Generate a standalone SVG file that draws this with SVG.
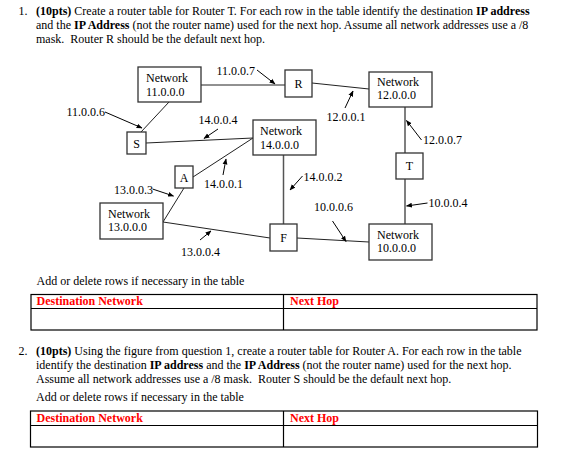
<svg xmlns="http://www.w3.org/2000/svg" width="587" height="462" viewBox="0 0 587 462">
<style>
text{font-family:"Liberation Serif","Times New Roman",serif;font-size:12px;fill:#000}
.b{font-weight:bold}
.red{fill:#ff0000;font-weight:bold}
.box{fill:#fff;stroke:#333;stroke-width:1.3}
.ln{stroke:#222;stroke-width:1;fill:none}
.vl{stroke:#555;stroke-width:1.5;fill:none}
.ar{stroke:#000;stroke-width:1;fill:none;marker-end:url(#ah)}
.tb{fill:none;stroke:#000;stroke-width:1.2}
.c{text-anchor:middle}
</style>
<defs>
<marker id="ah" viewBox="0 0 10 10" refX="9" refY="5" markerWidth="6" markerHeight="6" orient="auto" markerUnits="userSpaceOnUse">
<path d="M0,1 L10,5 L0,9 z" fill="#000"/>
</marker>
</defs>
<rect width="587" height="462" fill="#fff"/>

<g id="question1">
<text x="18.5" y="14.5">1.</text>
<text x="36" y="14.5"><tspan class="b">(10pts)</tspan> Create a router table for Router T. For each row in the table identify the destination <tspan class="b">IP address</tspan></text>
<text x="36" y="28.5">and the <tspan class="b">IP Address</tspan> (not the router name) used for the next hop. Assume all network addresses use a /8</text>
<text x="36" y="42.5" xml:space="preserve">mask.  Router R should be the default next hop.</text>
</g>

<g id="connectors">
<line class="ln" x1="201" y1="85" x2="285" y2="85"/>
<line class="ln" x1="169" y1="102" x2="141" y2="132"/>
<line class="ln" x1="146" y1="143" x2="253" y2="138"/>
<line class="ln" x1="193" y1="177" x2="253" y2="138"/>
<line class="ln" x1="184" y1="188" x2="163" y2="222"/>
<line class="ln" x1="163" y1="222" x2="270" y2="238"/>
<line class="vl" x1="283.5" y1="155" x2="283.5" y2="224"/>
<line class="ln" x1="312" y1="83" x2="369" y2="89"/>
<line class="vl" x1="405" y1="107" x2="405" y2="153"/>
<line class="vl" x1="405" y1="179" x2="405" y2="224"/>
<line class="ln" x1="297" y1="238" x2="369" y2="242"/>
</g>

<g id="net11"><rect class="box" x="138" y="67" width="63" height="35"/><text x="146" y="82">Network</text><text x="146" y="95.5">11.0.0.0</text></g>
<g id="routerR"><rect class="box" x="285" y="70" width="27" height="27"/><text class="c" x="298.5" y="88">R</text></g>
<g id="net12"><rect class="box" x="369" y="72" width="63" height="35"/><text x="377" y="85.5">Network</text><text x="377" y="99">12.0.0.0</text></g>
<g id="routerS"><rect class="box" x="127" y="132" width="19" height="22"/><text class="c" x="136.5" y="147.5">S</text></g>
<g id="net14"><rect class="box" x="253" y="120" width="63" height="35"/><text x="260" y="135">Network</text><text x="260" y="148.5">14.0.0.0</text></g>
<g id="routerT"><rect class="box" x="396" y="153" width="27" height="26"/><text class="c" x="409.5" y="170">T</text></g>
<g id="routerA"><rect class="box" x="175" y="166" width="18" height="22"/><text class="c" x="184" y="181.5">A</text></g>
<g id="net13"><rect class="box" x="100" y="203" width="63" height="36"/><text x="108" y="217.5">Network</text><text x="108" y="231">13.0.0.0</text></g>
<g id="routerF"><rect class="box" x="270" y="224" width="27" height="27"/><text class="c" x="283.5" y="242">F</text></g>
<g id="net10"><rect class="box" x="369" y="224" width="63" height="36"/><text x="377" y="238.5">Network</text><text x="377" y="252">10.0.0.0</text></g>

<g id="labels">
<text x="216.5" y="75">11.0.0.7</text>
<line class="ar" x1="257" y1="70" x2="275" y2="84"/>
<text x="66.5" y="116">11.0.0.6</text>
<line class="ar" x1="105" y1="112" x2="142" y2="128"/>
<text x="198.5" y="124">14.0.0.4</text>
<line class="ar" x1="218" y1="129" x2="204" y2="138.5"/>
<text x="326.5" y="121">12.0.0.1</text>
<line class="ar" x1="345" y1="108" x2="353" y2="91"/>
<text x="423" y="144">12.0.0.7</text>
<line class="ar" x1="421.5" y1="140" x2="406.5" y2="120.5"/>
<text x="204" y="188">14.0.0.1</text>
<line class="ar" x1="223" y1="175" x2="226" y2="159"/>
<text x="114" y="194">13.0.0.3</text>
<line class="ar" x1="152.5" y1="189" x2="173.5" y2="196"/>
<text x="181" y="255.5">13.0.0.4</text>
<line class="ar" x1="200" y1="240" x2="211" y2="231"/>
<text x="303.5" y="181">14.0.0.2</text>
<line class="ar" x1="302.5" y1="176" x2="290" y2="190"/>
<text x="314" y="211">10.0.0.6</text>
<line class="ar" x1="332.5" y1="221" x2="346" y2="241.5"/>
<text x="428.5" y="207">10.0.0.4</text>
<line class="ar" x1="427.5" y1="203" x2="406.5" y2="206"/>
</g>

<g id="table1">
<text x="36.5" y="285">Add or delete rows if necessary in the table</text>
<rect class="tb" x="31" y="294.5" width="506" height="35.5"/>
<line class="tb" x1="31" y1="308.5" x2="537" y2="308.5"/>
<line class="tb" x1="283.5" y1="294.5" x2="283.5" y2="330"/>
<text class="red" x="36.5" y="305">Destination Network</text>
<text class="red" x="290" y="305">Next Hop</text>
</g>

<g id="question2">
<text x="18.5" y="355">2.</text>
<text x="36" y="355"><tspan class="b">(10pts)</tspan> Using the figure from question 1, create a router table for Router A. For each row in the table</text>
<text x="36" y="369">identify the destination <tspan class="b">IP address</tspan> and the <tspan class="b">IP Address</tspan> (not the router name) used for the next hop.</text>
<text x="36" y="383" xml:space="preserve">Assume all network addresses use a /8 mask.  Router S should be the default next hop.</text>
<text x="36" y="401">Add or delete rows if necessary in the table</text>
</g>

<g id="table2">
<rect class="tb" x="30.5" y="411" width="507" height="36"/>
<line class="tb" x1="30.5" y1="425.5" x2="537.5" y2="425.5"/>
<line class="tb" x1="283.5" y1="411" x2="283.5" y2="447"/>
<text class="red" x="36.5" y="421.5">Destination Network</text>
<text class="red" x="290" y="421.5">Next Hop</text>
</g>
</svg>
